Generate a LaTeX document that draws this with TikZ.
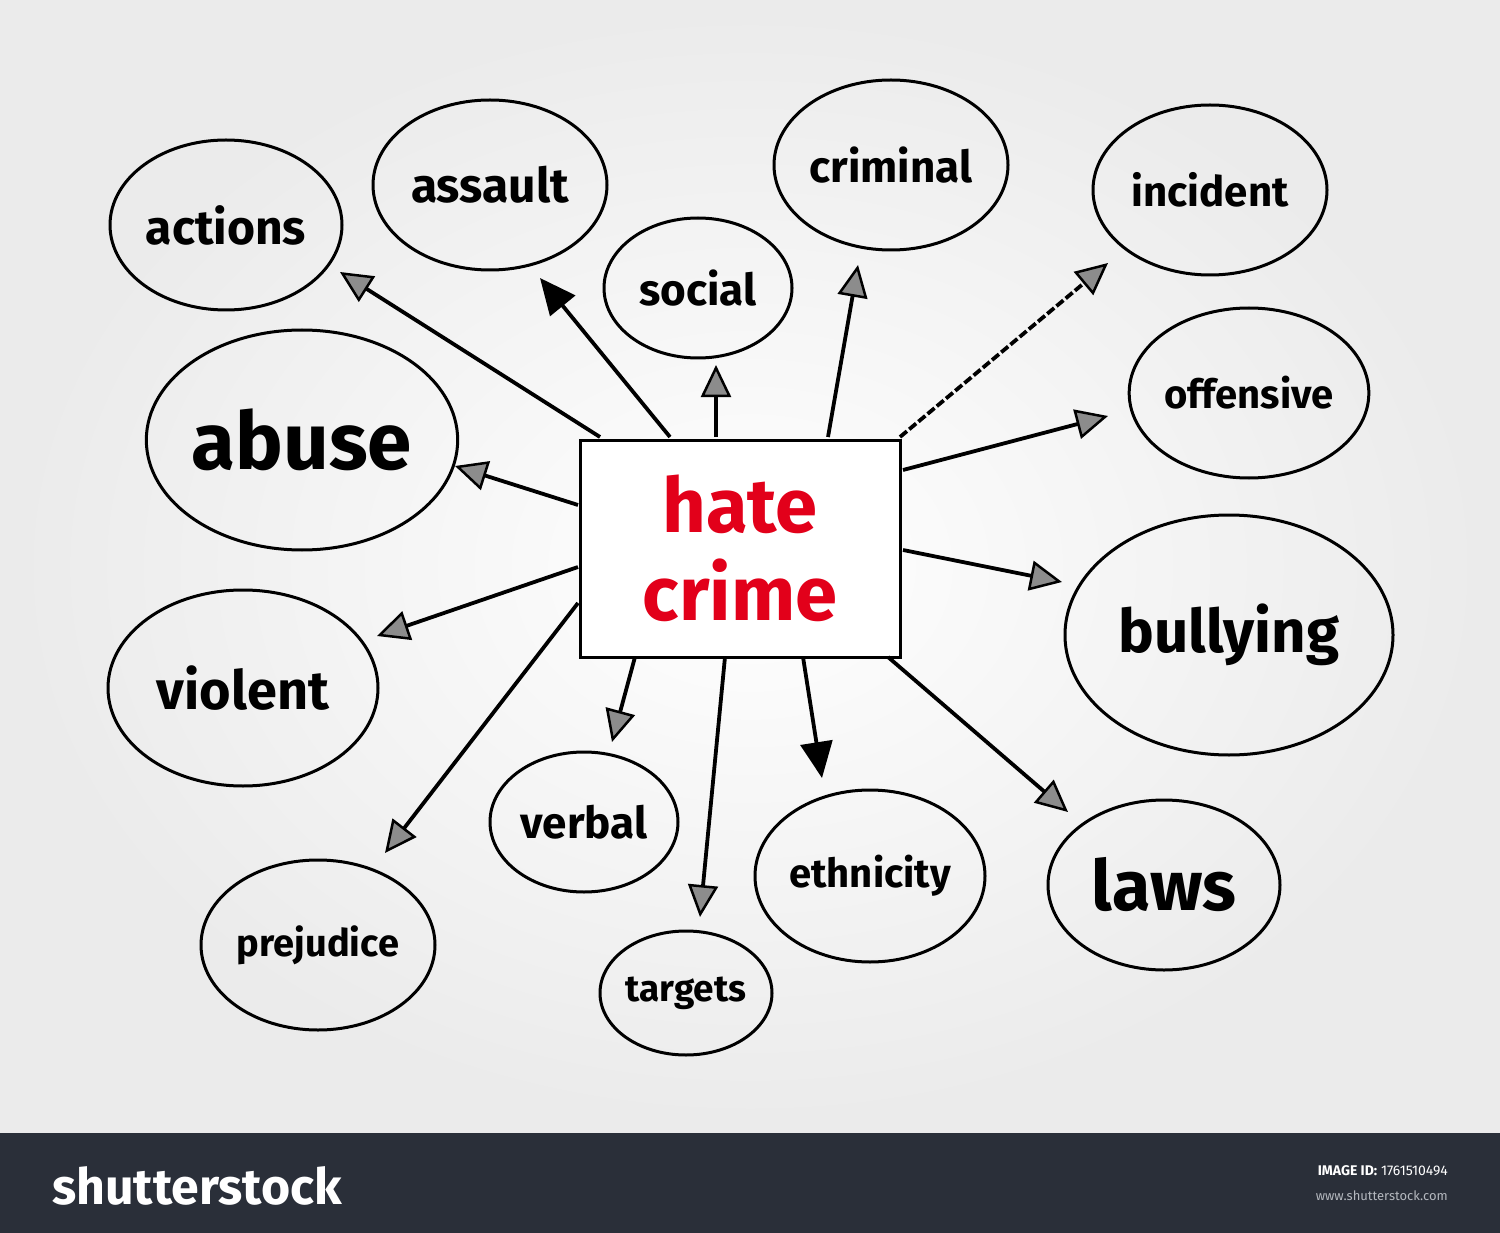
\documentclass[tikz,border=0pt]{standalone}
\usepackage{fontspec}
\setmainfont{Fira Sans}
\usetikzlibrary{shapes.geometric,arrows.meta}
\definecolor{hatered}{HTML}{E2001A}
\definecolor{footbg}{HTML}{2A2F39}
\definecolor{footgray}{HTML}{B4B8BE}
\begin{document}
\begin{tikzpicture}[x=1pt,y=-1pt,
  bubble/.style={draw=black,line width=3pt,ellipse,inner sep=0pt},
  lbl/.style={font=\bfseries\fontsize{#1}{#1}\selectfont},
  link/.style={line width=3.8pt,-{Triangle[length=32pt,width=30pt,fill=black!45,line width=2.5pt]}},
  linkf/.style={line width=3.8pt,-{Triangle[length=36pt,width=32pt]}}]
\useasboundingbox (0,0) rectangle (1500,1233);
\shade[inner color=white,outer color=black!8] (0,0) rectangle (1500,1133);
\fill[footbg] (0,1133) rectangle (1500,1233);

% hub
\node[draw=black,line width=3pt,fill=white,minimum width=320,minimum height=217,inner sep=0pt,
      text=hatered,align=center,font=\bfseries\fontsize{76}{88}\selectfont] (hub) at (740,548.5) {hate\\crime};

% bubbles
\node[bubble,minimum width=232,minimum height=170,lbl=48] (actions) at (226,225) {actions};
\node[bubble,minimum width=234,minimum height=170,lbl=48] (assault) at (490,185) {assault};
\node[bubble,minimum width=188,minimum height=140,lbl=44] (social) at (698,288) {social};
\node[bubble,minimum width=234,minimum height=170,lbl=44] (criminal) at (891,165) {criminal};
\node[bubble,minimum width=234,minimum height=170,lbl=42] (incident) at (1210,190) {incident};
\node[bubble,minimum width=232,minimum height=170,lbl=40] (offensive) at (1249,393) {offensive};
\node[bubble,minimum width=328,minimum height=240,lbl=60] (bullying) at (1229,635) {bullying};
\node[bubble,minimum width=232,minimum height=170,lbl=70] (laws) at (1164,885) {laws};
\node[bubble,minimum width=230,minimum height=172,lbl=40] (ethnicity) at (870,876) {ethnicity};
\node[bubble,minimum width=172,minimum height=124,lbl=37] (targets) at (686,993) {targets};
\node[bubble,minimum width=188,minimum height=140,lbl=44] (verbal) at (584,822) {verbal};
\node[bubble,minimum width=234,minimum height=170,lbl=38] (prejudice) at (318,945) {prejudice};
\node[bubble,minimum width=270,minimum height=196,lbl=54] (violent) at (243,688) {violent};
\node[bubble,minimum width=300,minimum height=220,lbl=80] (abuse) at (302,440) {abuse};

% connector end points
\coordinate (sA) at (600,437);  \coordinate (eA) at (340,272);
\coordinate (sB) at (670,437);  \coordinate (eB) at (540,278);
\coordinate (sC) at (716,437);  \coordinate (eC) at (716,365);
\coordinate (sD) at (828,437);  \coordinate (eD) at (858,265);
\coordinate (sE) at (900,437);  \coordinate (eE) at (1108,263);
\coordinate (sF) at (903,470);  \coordinate (eF) at (1108,416);
\coordinate (sG) at (903,550);  \coordinate (eG) at (1062,582);
\coordinate (sH) at (888,657);  \coordinate (eH) at (1068,812);
\coordinate (sI) at (803,657);  \coordinate (eI) at (822,778);
\coordinate (sJ) at (725,657);  \coordinate (eJ) at (700,917);
\coordinate (sK) at (635,657);  \coordinate (eK) at (612,742);
\coordinate (sL) at (578,603);  \coordinate (eL) at (385,853);
\coordinate (sM) at (578,567);  \coordinate (eM) at (377,636);
\coordinate (sN) at (578,505);  \coordinate (eN) at (455,466);

\draw[link]  (sA) -- (eA);
\draw[linkf] (sB) -- (eB);
\draw[link]  (sC) -- (eC);
\draw[link]  (sD) -- (eD);
\draw[link,dash pattern=on 9pt off 3pt] (sE) -- (eE);
\draw[link]  (sF) -- (eF);
\draw[link]  (sG) -- (eG);
\draw[link]  (sH) -- (eH);
\draw[linkf] (sI) -- (eI);
\draw[link]  (sJ) -- (eJ);
\draw[link]  (sK) -- (eK);
\draw[link]  (sL) -- (eL);
\draw[link]  (sM) -- (eM);
\draw[link]  (sN) -- (eN);

% footer
\node[anchor=west,text=white,lbl=50,inner sep=0pt] (logo) at (52,1186) {shutterstock};
\node[anchor=east,text=white,font=\fontsize{14}{14}\selectfont,inner sep=0pt] (imgid) at (1448,1171) {\textbf{IMAGE ID:} 1761510494};
\node[anchor=east,text=footgray,font=\fontsize{13}{13}\selectfont,inner sep=0pt] (www) at (1448,1196) {www.shutterstock.com};
\end{tikzpicture}
\end{document}
